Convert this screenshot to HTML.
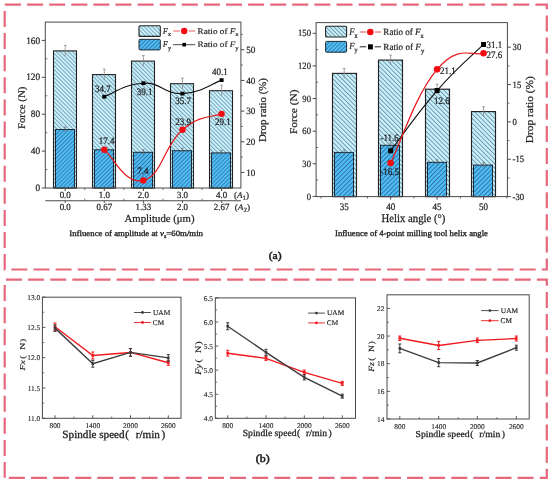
<!DOCTYPE html>
<html><head><meta charset="utf-8"><style>
html,body{margin:0;padding:0;background:#fff;width:550px;height:482px;overflow:hidden;position:relative;}
text{font-family:"Liberation Serif", serif;text-rendering:geometricPrecision;stroke:#1e1e1e;stroke-width:0.22px;}
</style></head><body>
<svg width="550" height="482" viewBox="0 0 550 482" style="position:absolute;left:0;top:0;will-change:transform">
<defs>
<pattern id="hx" patternUnits="userSpaceOnUse" width="2.85" height="2.85" patternTransform="rotate(-45)">
<rect width="2.85" height="2.85" fill="#c9f0fd"/><rect x="0" y="0" width="0.8" height="2.85" fill="#6a93a3"/></pattern>
<pattern id="hy" patternUnits="userSpaceOnUse" width="2.85" height="2.85" patternTransform="rotate(45)">
<rect width="2.85" height="2.85" fill="#4fbdf7"/><rect x="0" y="0" width="0.8" height="2.85" fill="#30709c"/></pattern>
<pattern id="hx2" patternUnits="userSpaceOnUse" width="3.2" height="3.2" patternTransform="rotate(-45)">
<rect width="3.2" height="3.2" fill="#c9f0fd"/><rect x="0" y="0" width="0.9" height="3.2" fill="#6a93a3"/></pattern>
<pattern id="hy2" patternUnits="userSpaceOnUse" width="3.2" height="3.2" patternTransform="rotate(45)">
<rect width="3.2" height="3.2" fill="#4fbdf7"/><rect x="0" y="0" width="0.9" height="3.2" fill="#30709c"/></pattern>
</defs>
<path d="M4.7,4.7 H546.8000000000001 V269.5 H4.7 Z" fill="none" stroke="#e6687c" stroke-width="2.2" stroke-dasharray="16 6.1" stroke-dashoffset="-0.3"/>
<path d="M4.7,279.7 H546.8 V477.8 H4.7" fill="none" stroke="#e6687c" stroke-width="2.2" stroke-dasharray="16 6.12" stroke-dashoffset="-1.3"/>
<path d="M4.7,477.8 V279.7" fill="none" stroke="#e6687c" stroke-width="2.2" stroke-dasharray="16 6.12" stroke-dashoffset="0.2"/>
<rect x="53.5" y="50.90" width="23" height="137.10" fill="url(#hx)" stroke="#222" stroke-width="1.1"/>
<rect x="92.5" y="74.60" width="23" height="113.40" fill="url(#hx)" stroke="#222" stroke-width="1.1"/>
<rect x="131.5" y="61.10" width="23" height="126.90" fill="url(#hx)" stroke="#222" stroke-width="1.1"/>
<rect x="170.5" y="83.70" width="23" height="104.30" fill="url(#hx)" stroke="#222" stroke-width="1.1"/>
<rect x="209.5" y="90.70" width="23" height="97.30" fill="url(#hx)" stroke="#222" stroke-width="1.1"/>
<line x1="65.20" y1="45.40" x2="65.20" y2="56.40" stroke="#8a8a8a" stroke-width="0.8" />
<line x1="63.80" y1="45.40" x2="66.60" y2="45.40" stroke="#8a8a8a" stroke-width="0.8" />
<line x1="104.30" y1="69.10" x2="104.30" y2="80.10" stroke="#8a8a8a" stroke-width="0.8" />
<line x1="102.90" y1="69.10" x2="105.70" y2="69.10" stroke="#8a8a8a" stroke-width="0.8" />
<line x1="143.40" y1="55.60" x2="143.40" y2="66.60" stroke="#8a8a8a" stroke-width="0.8" />
<line x1="142.00" y1="55.60" x2="144.80" y2="55.60" stroke="#8a8a8a" stroke-width="0.8" />
<line x1="182.50" y1="78.20" x2="182.50" y2="89.20" stroke="#8a8a8a" stroke-width="0.8" />
<line x1="181.10" y1="78.20" x2="183.90" y2="78.20" stroke="#8a8a8a" stroke-width="0.8" />
<line x1="221.60" y1="85.20" x2="221.60" y2="96.20" stroke="#8a8a8a" stroke-width="0.8" />
<line x1="220.20" y1="85.20" x2="223.00" y2="85.20" stroke="#8a8a8a" stroke-width="0.8" />
<rect x="55.5" y="129.50" width="19" height="58.50" fill="url(#hy)" stroke="#1e2a33" stroke-width="1"/>
<line x1="65.20" y1="127.00" x2="65.20" y2="132.00" stroke="#666" stroke-width="0.7" />
<line x1="64.00" y1="127.00" x2="66.40" y2="127.00" stroke="#666" stroke-width="0.7" />
<rect x="94.5" y="149.80" width="19" height="38.20" fill="url(#hy)" stroke="#1e2a33" stroke-width="1"/>
<line x1="104.30" y1="147.30" x2="104.30" y2="152.30" stroke="#666" stroke-width="0.7" />
<line x1="103.10" y1="147.30" x2="105.50" y2="147.30" stroke="#666" stroke-width="0.7" />
<rect x="133.5" y="152.30" width="19" height="35.70" fill="url(#hy)" stroke="#1e2a33" stroke-width="1"/>
<line x1="143.40" y1="149.80" x2="143.40" y2="154.80" stroke="#666" stroke-width="0.7" />
<line x1="142.20" y1="149.80" x2="144.60" y2="149.80" stroke="#666" stroke-width="0.7" />
<rect x="172.5" y="150.70" width="19" height="37.30" fill="url(#hy)" stroke="#1e2a33" stroke-width="1"/>
<line x1="182.50" y1="148.20" x2="182.50" y2="153.20" stroke="#666" stroke-width="0.7" />
<line x1="181.30" y1="148.20" x2="183.70" y2="148.20" stroke="#666" stroke-width="0.7" />
<rect x="211.5" y="152.90" width="19" height="35.10" fill="url(#hy)" stroke="#1e2a33" stroke-width="1"/>
<line x1="221.60" y1="150.40" x2="221.60" y2="155.40" stroke="#666" stroke-width="0.7" />
<line x1="220.40" y1="150.40" x2="222.80" y2="150.40" stroke="#666" stroke-width="0.7" />
<rect x="45.3" y="22.1" width="195.60" height="165.90" fill="none" stroke="#4a4a4a" stroke-width="1"/>
<line x1="41.80" y1="188.00" x2="45.30" y2="188.00" stroke="#4a4a4a" stroke-width="1.0" />
<text transform="translate(40.10,191.10) scale(0.95,1.0)" font-size="9.8" text-anchor="end" fill="#1e1e1e" >0</text>
<line x1="41.80" y1="151.10" x2="45.30" y2="151.10" stroke="#4a4a4a" stroke-width="1.0" />
<text transform="translate(40.10,154.20) scale(0.95,1.0)" font-size="9.8" text-anchor="end" fill="#1e1e1e" >40</text>
<line x1="41.80" y1="114.20" x2="45.30" y2="114.20" stroke="#4a4a4a" stroke-width="1.0" />
<text transform="translate(40.10,117.30) scale(0.95,1.0)" font-size="9.8" text-anchor="end" fill="#1e1e1e" >80</text>
<line x1="41.80" y1="77.30" x2="45.30" y2="77.30" stroke="#4a4a4a" stroke-width="1.0" />
<text transform="translate(40.10,80.40) scale(0.95,1.0)" font-size="9.8" text-anchor="end" fill="#1e1e1e" >120</text>
<line x1="41.80" y1="40.40" x2="45.30" y2="40.40" stroke="#4a4a4a" stroke-width="1.0" />
<text transform="translate(40.10,43.50) scale(0.95,1.0)" font-size="9.8" text-anchor="end" fill="#1e1e1e" >160</text>
<line x1="45.30" y1="169.55" x2="47.30" y2="169.55" stroke="#4a4a4a" stroke-width="0.8" />
<line x1="45.30" y1="132.65" x2="47.30" y2="132.65" stroke="#4a4a4a" stroke-width="0.8" />
<line x1="45.30" y1="95.75" x2="47.30" y2="95.75" stroke="#4a4a4a" stroke-width="0.8" />
<line x1="45.30" y1="58.85" x2="47.30" y2="58.85" stroke="#4a4a4a" stroke-width="0.8" />
<line x1="240.90" y1="172.44" x2="244.40" y2="172.44" stroke="#4a4a4a" stroke-width="1.0" />
<text transform="translate(246.30,175.54) scale(0.95,1.0)" font-size="9.6" text-anchor="start" fill="#1e1e1e" >10</text>
<line x1="240.90" y1="141.77" x2="244.40" y2="141.77" stroke="#4a4a4a" stroke-width="1.0" />
<text transform="translate(246.30,144.87) scale(0.95,1.0)" font-size="9.6" text-anchor="start" fill="#1e1e1e" >20</text>
<line x1="240.90" y1="111.10" x2="244.40" y2="111.10" stroke="#4a4a4a" stroke-width="1.0" />
<text transform="translate(246.30,114.20) scale(0.95,1.0)" font-size="9.6" text-anchor="start" fill="#1e1e1e" >30</text>
<line x1="240.90" y1="80.43" x2="244.40" y2="80.43" stroke="#4a4a4a" stroke-width="1.0" />
<text transform="translate(246.30,83.53) scale(0.95,1.0)" font-size="9.6" text-anchor="start" fill="#1e1e1e" >40</text>
<line x1="240.90" y1="49.76" x2="244.40" y2="49.76" stroke="#4a4a4a" stroke-width="1.0" />
<text transform="translate(246.30,52.86) scale(0.95,1.0)" font-size="9.6" text-anchor="start" fill="#1e1e1e" >50</text>
<line x1="240.90" y1="157.10" x2="242.90" y2="157.10" stroke="#4a4a4a" stroke-width="0.8" />
<line x1="240.90" y1="126.44" x2="242.90" y2="126.44" stroke="#4a4a4a" stroke-width="0.8" />
<line x1="240.90" y1="95.76" x2="242.90" y2="95.76" stroke="#4a4a4a" stroke-width="0.8" />
<line x1="240.90" y1="65.09" x2="242.90" y2="65.09" stroke="#4a4a4a" stroke-width="0.8" />
<line x1="240.90" y1="34.42" x2="242.90" y2="34.42" stroke="#4a4a4a" stroke-width="0.8" />
<line x1="65.20" y1="188.00" x2="65.20" y2="191.00" stroke="#4a4a4a" stroke-width="1.0" />
<line x1="104.30" y1="188.00" x2="104.30" y2="191.00" stroke="#4a4a4a" stroke-width="1.0" />
<line x1="143.40" y1="188.00" x2="143.40" y2="191.00" stroke="#4a4a4a" stroke-width="1.0" />
<line x1="182.50" y1="188.00" x2="182.50" y2="191.00" stroke="#4a4a4a" stroke-width="1.0" />
<line x1="221.60" y1="188.00" x2="221.60" y2="191.00" stroke="#4a4a4a" stroke-width="1.0" />
<line x1="84.75" y1="188.00" x2="84.75" y2="190.00" stroke="#4a4a4a" stroke-width="0.8" />
<line x1="123.85" y1="188.00" x2="123.85" y2="190.00" stroke="#4a4a4a" stroke-width="0.8" />
<line x1="162.95" y1="188.00" x2="162.95" y2="190.00" stroke="#4a4a4a" stroke-width="0.8" />
<line x1="202.05" y1="188.00" x2="202.05" y2="190.00" stroke="#4a4a4a" stroke-width="0.8" />
<line x1="45.30" y1="200.70" x2="240.90" y2="200.70" stroke="#4a4a4a" stroke-width="1.1" />
<line x1="65.20" y1="200.70" x2="65.20" y2="203.00" stroke="#4a4a4a" stroke-width="0.9" />
<line x1="104.30" y1="200.70" x2="104.30" y2="203.00" stroke="#4a4a4a" stroke-width="0.9" />
<line x1="143.40" y1="200.70" x2="143.40" y2="203.00" stroke="#4a4a4a" stroke-width="0.9" />
<line x1="182.50" y1="200.70" x2="182.50" y2="203.00" stroke="#4a4a4a" stroke-width="0.9" />
<line x1="221.60" y1="200.70" x2="221.60" y2="203.00" stroke="#4a4a4a" stroke-width="0.9" />
<line x1="84.75" y1="200.70" x2="84.75" y2="198.70" stroke="#4a4a4a" stroke-width="0.8" />
<line x1="123.85" y1="200.70" x2="123.85" y2="198.70" stroke="#4a4a4a" stroke-width="0.8" />
<line x1="162.95" y1="200.70" x2="162.95" y2="198.70" stroke="#4a4a4a" stroke-width="0.8" />
<line x1="202.05" y1="200.70" x2="202.05" y2="198.70" stroke="#4a4a4a" stroke-width="0.8" />
<text transform="translate(65.20,197.50) scale(0.95,1.0)" font-size="9.4" text-anchor="middle" fill="#1e1e1e" >0.0</text>
<text transform="translate(104.30,197.50) scale(0.95,1.0)" font-size="9.4" text-anchor="middle" fill="#1e1e1e" >1.0</text>
<text transform="translate(143.40,197.50) scale(0.95,1.0)" font-size="9.4" text-anchor="middle" fill="#1e1e1e" >2.0</text>
<text transform="translate(182.50,197.50) scale(0.95,1.0)" font-size="9.4" text-anchor="middle" fill="#1e1e1e" >3.0</text>
<text transform="translate(221.60,197.50) scale(0.95,1.0)" font-size="9.4" text-anchor="middle" fill="#1e1e1e" >4.0</text>
<text transform="translate(65.20,210.20) scale(0.95,1.0)" font-size="9.4" text-anchor="middle" fill="#1e1e1e" >0.0</text>
<text transform="translate(104.30,210.20) scale(0.95,1.0)" font-size="9.4" text-anchor="middle" fill="#1e1e1e" >0.67</text>
<text transform="translate(143.40,210.20) scale(0.95,1.0)" font-size="9.4" text-anchor="middle" fill="#1e1e1e" >1.33</text>
<text transform="translate(182.50,210.20) scale(0.95,1.0)" font-size="9.4" text-anchor="middle" fill="#1e1e1e" >2.0</text>
<text transform="translate(221.60,210.20) scale(0.95,1.0)" font-size="9.4" text-anchor="middle" fill="#1e1e1e" >2.67</text>
<g transform="translate(233.972,197.916) scale(0.9125,0.8737)"><text font-size="10" fill="#1e1e1e">(<tspan font-style="italic">A</tspan><tspan font-size="7.5" dy="2.6">1</tspan><tspan dy="-2.6">)</tspan></text></g>
<g transform="translate(234.769,209.568) scale(0.9250,0.8526)"><text font-size="10" fill="#1e1e1e">(<tspan font-style="italic">A</tspan><tspan font-size="7.5" dy="2.6">2</tspan><tspan dy="-2.6">)</tspan></text></g>
<g transform="translate(124.500,222.068) scale(1.0764,1.0811)"><text font-size="10" fill="#1e1e1e">Amplitude (μm)</text></g>
<g transform="translate(69.280,235.972) scale(0.8783,0.8100)"><text font-size="10" fill="#1e1e1e" style="stroke-width:0.4px">Influence of amplitude at <tspan font-style="italic">v</tspan><tspan font-size="7" dy="2.4">s</tspan><tspan dy="-2.4">=60m/min</tspan></text></g>
<g transform="translate(25.338,129.071) rotate(-90) scale(1.0831,1.0054)"><text font-size="10" fill="#1e1e1e">Force (N)</text></g>
<g transform="translate(266.416,141.971) rotate(-90) scale(1.0850,1.0595)"><text font-size="10" fill="#1e1e1e">Drop ratio (%)</text></g>
<path d="M104.30,96.69 C113.61,93.47 124.78,83.92 143.40,83.19 C162.02,82.46 163.88,94.35 182.50,93.62 C201.12,92.89 212.29,83.34 221.60,80.12" fill="none" stroke="#111" stroke-width="1.1"/>
<path d="M104.30,149.74 C113.61,157.05 124.78,185.16 143.40,180.41 C162.02,175.67 163.88,145.65 182.50,129.81 C201.12,113.96 212.29,117.66 221.60,113.86" fill="none" stroke="#e8161b" stroke-width="1.2"/>
<rect x="102.30" y="94.79" width="4.0" height="3.8" fill="#000"/>
<rect x="141.40" y="81.29" width="4.0" height="3.8" fill="#000"/>
<rect x="180.50" y="91.72" width="4.0" height="3.8" fill="#000"/>
<rect x="219.60" y="78.22" width="4.0" height="3.8" fill="#000"/>
<circle cx="104.30" cy="149.74" r="3.2" fill="#f20c10"/>
<circle cx="143.40" cy="180.41" r="3.2" fill="#f20c10"/>
<circle cx="182.50" cy="129.81" r="3.2" fill="#f20c10"/>
<circle cx="221.60" cy="113.86" r="3.2" fill="#f20c10"/>
<text transform="translate(102.85,91.50) scale(0.92,1.0)" font-size="9.8" text-anchor="middle" fill="#1e1e1e" >34.7</text>
<text transform="translate(144.70,94.80) scale(0.92,1.0)" font-size="9.8" text-anchor="middle" fill="#1e1e1e" >39.1</text>
<text transform="translate(183.20,103.70) scale(0.92,1.0)" font-size="9.8" text-anchor="middle" fill="#1e1e1e" >35.7</text>
<text transform="translate(219.80,75.40) scale(0.92,1.0)" font-size="9.8" text-anchor="middle" fill="#1e1e1e" >40.1</text>
<text transform="translate(106.60,143.70) scale(0.92,1.0)" font-size="9.8" text-anchor="middle" fill="#1e1e1e" >17.4</text>
<text transform="translate(143.00,173.50) scale(0.92,1.0)" font-size="9.8" text-anchor="middle" fill="#1e1e1e" >7.4</text>
<text transform="translate(183.20,124.70) scale(0.92,1.0)" font-size="9.8" text-anchor="middle" fill="#1e1e1e" >23.9</text>
<text transform="translate(223.00,125.20) scale(0.92,1.0)" font-size="9.8" text-anchor="middle" fill="#1e1e1e" >29.1</text>
<rect x="139" y="25.8" width="21.3" height="10.6" rx="1" fill="url(#hx)" stroke="#222" stroke-width="1.1"/>
<rect x="139" y="39.3" width="21.3" height="10.6" rx="1" fill="url(#hy)" stroke="#1e2a33" stroke-width="1"/>
<g transform="translate(162.810,33.915) scale(0.8400,0.8615)"><text font-size="10" fill="#1e1e1e"><tspan font-style="italic">F</tspan><tspan font-size="7.2" dy="3.0">x</tspan></text></g>
<g transform="translate(162.810,47.211) scale(0.8400,0.8609)"><text font-size="10" fill="#1e1e1e"><tspan font-style="italic">F</tspan><tspan font-size="7.2" dy="3.0">y</tspan></text></g>
<line x1="173.20" y1="31.00" x2="180.00" y2="31.00" stroke="#f05a5e" stroke-width="1.0" />
<line x1="188.60" y1="31.00" x2="195.20" y2="31.00" stroke="#f05a5e" stroke-width="1.0" />
<circle cx="184.2" cy="31.0" r="3.2" fill="#f20c10"/>
<line x1="173.20" y1="44.70" x2="195.20" y2="44.70" stroke="#333" stroke-width="0.9" />
<rect x="182.4" y="42.9" width="3.6" height="3.6" fill="#000"/>
<g transform="translate(197.570,34.012) scale(0.9191,0.8293)"><text font-size="10" fill="#1e1e1e">Ratio of <tspan font-style="italic">F</tspan><tspan font-size="7.2" dy="3.0">x</tspan></text></g>
<g transform="translate(197.570,47.202) scale(0.9191,0.8417)"><text font-size="10" fill="#1e1e1e">Ratio of <tspan font-style="italic">F</tspan><tspan font-size="7.2" dy="3.0">y</tspan></text></g>
<rect x="332.5" y="73.40" width="24" height="123.20" fill="url(#hx2)" stroke="#222" stroke-width="1.15"/>
<line x1="344.20" y1="68.40" x2="344.20" y2="78.40" stroke="#8a8a8a" stroke-width="0.8" />
<line x1="342.80" y1="68.40" x2="345.60" y2="68.40" stroke="#8a8a8a" stroke-width="0.8" />
<rect x="378.5" y="60.10" width="24" height="136.50" fill="url(#hx2)" stroke="#222" stroke-width="1.15"/>
<line x1="390.65" y1="55.10" x2="390.65" y2="65.10" stroke="#8a8a8a" stroke-width="0.8" />
<line x1="389.25" y1="55.10" x2="392.05" y2="55.10" stroke="#8a8a8a" stroke-width="0.8" />
<rect x="425.5" y="89.20" width="24" height="107.40" fill="url(#hx2)" stroke="#222" stroke-width="1.15"/>
<line x1="437.10" y1="84.20" x2="437.10" y2="94.20" stroke="#8a8a8a" stroke-width="0.8" />
<line x1="435.70" y1="84.20" x2="438.50" y2="84.20" stroke="#8a8a8a" stroke-width="0.8" />
<rect x="471.5" y="111.60" width="24" height="85.00" fill="url(#hx2)" stroke="#222" stroke-width="1.15"/>
<line x1="483.55" y1="106.60" x2="483.55" y2="116.60" stroke="#8a8a8a" stroke-width="0.8" />
<line x1="482.15" y1="106.60" x2="484.95" y2="106.60" stroke="#8a8a8a" stroke-width="0.8" />
<rect x="334.5" y="152.40" width="19" height="44.20" fill="url(#hy2)" stroke="#1e2a33" stroke-width="1"/>
<line x1="344.20" y1="149.90" x2="344.20" y2="154.90" stroke="#666" stroke-width="0.7" />
<line x1="343.00" y1="149.90" x2="345.40" y2="149.90" stroke="#666" stroke-width="0.7" />
<rect x="380.5" y="145.30" width="19" height="51.30" fill="url(#hy2)" stroke="#1e2a33" stroke-width="1"/>
<line x1="390.65" y1="142.80" x2="390.65" y2="147.80" stroke="#666" stroke-width="0.7" />
<line x1="389.45" y1="142.80" x2="391.85" y2="142.80" stroke="#666" stroke-width="0.7" />
<rect x="427.5" y="162.30" width="19" height="34.30" fill="url(#hy2)" stroke="#1e2a33" stroke-width="1"/>
<line x1="437.10" y1="159.80" x2="437.10" y2="164.80" stroke="#666" stroke-width="0.7" />
<line x1="435.90" y1="159.80" x2="438.30" y2="159.80" stroke="#666" stroke-width="0.7" />
<rect x="473.5" y="165.10" width="19" height="31.50" fill="url(#hy2)" stroke="#1e2a33" stroke-width="1"/>
<line x1="483.55" y1="162.60" x2="483.55" y2="167.60" stroke="#666" stroke-width="0.7" />
<line x1="482.35" y1="162.60" x2="484.75" y2="162.60" stroke="#666" stroke-width="0.7" />
<rect x="316.1" y="22.6" width="191.30" height="174.00" fill="none" stroke="#4a4a4a" stroke-width="1"/>
<line x1="312.60" y1="196.40" x2="316.10" y2="196.40" stroke="#4a4a4a" stroke-width="1.0" />
<text transform="translate(311.00,199.50) scale(0.9,1.0)" font-size="9.6" text-anchor="end" fill="#1e1e1e" >0</text>
<line x1="312.60" y1="163.78" x2="316.10" y2="163.78" stroke="#4a4a4a" stroke-width="1.0" />
<text transform="translate(311.00,166.88) scale(0.9,1.0)" font-size="9.6" text-anchor="end" fill="#1e1e1e" >30</text>
<line x1="312.60" y1="131.16" x2="316.10" y2="131.16" stroke="#4a4a4a" stroke-width="1.0" />
<text transform="translate(311.00,134.26) scale(0.9,1.0)" font-size="9.6" text-anchor="end" fill="#1e1e1e" >60</text>
<line x1="312.60" y1="98.54" x2="316.10" y2="98.54" stroke="#4a4a4a" stroke-width="1.0" />
<text transform="translate(311.00,101.64) scale(0.9,1.0)" font-size="9.6" text-anchor="end" fill="#1e1e1e" >90</text>
<line x1="312.60" y1="65.92" x2="316.10" y2="65.92" stroke="#4a4a4a" stroke-width="1.0" />
<text transform="translate(311.00,69.02) scale(0.9,1.0)" font-size="9.6" text-anchor="end" fill="#1e1e1e" >120</text>
<line x1="312.60" y1="33.31" x2="316.10" y2="33.31" stroke="#4a4a4a" stroke-width="1.0" />
<text transform="translate(311.00,36.41) scale(0.9,1.0)" font-size="9.6" text-anchor="end" fill="#1e1e1e" >150</text>
<line x1="316.10" y1="180.09" x2="318.10" y2="180.09" stroke="#4a4a4a" stroke-width="0.8" />
<line x1="316.10" y1="147.47" x2="318.10" y2="147.47" stroke="#4a4a4a" stroke-width="0.8" />
<line x1="316.10" y1="114.85" x2="318.10" y2="114.85" stroke="#4a4a4a" stroke-width="0.8" />
<line x1="316.10" y1="82.23" x2="318.10" y2="82.23" stroke="#4a4a4a" stroke-width="0.8" />
<line x1="316.10" y1="49.61" x2="318.10" y2="49.61" stroke="#4a4a4a" stroke-width="0.8" />
<line x1="507.40" y1="196.60" x2="510.90" y2="196.60" stroke="#4a4a4a" stroke-width="1.0" />
<text transform="translate(512.60,199.70) scale(0.92,1.0)" font-size="9.4" text-anchor="start" fill="#1e1e1e" >-30</text>
<line x1="507.40" y1="159.25" x2="510.90" y2="159.25" stroke="#4a4a4a" stroke-width="1.0" />
<text transform="translate(512.60,162.35) scale(0.92,1.0)" font-size="9.4" text-anchor="start" fill="#1e1e1e" >-15</text>
<line x1="507.40" y1="121.90" x2="510.90" y2="121.90" stroke="#4a4a4a" stroke-width="1.0" />
<text transform="translate(512.60,125.00) scale(0.92,1.0)" font-size="9.4" text-anchor="start" fill="#1e1e1e" >0</text>
<line x1="507.40" y1="84.55" x2="510.90" y2="84.55" stroke="#4a4a4a" stroke-width="1.0" />
<text transform="translate(512.60,87.65) scale(0.92,1.0)" font-size="9.4" text-anchor="start" fill="#1e1e1e" >15</text>
<line x1="507.40" y1="47.20" x2="510.90" y2="47.20" stroke="#4a4a4a" stroke-width="1.0" />
<text transform="translate(512.60,50.30) scale(0.92,1.0)" font-size="9.4" text-anchor="start" fill="#1e1e1e" >30</text>
<line x1="507.40" y1="177.93" x2="509.40" y2="177.93" stroke="#4a4a4a" stroke-width="0.8" />
<line x1="507.40" y1="140.58" x2="509.40" y2="140.58" stroke="#4a4a4a" stroke-width="0.8" />
<line x1="507.40" y1="103.23" x2="509.40" y2="103.23" stroke="#4a4a4a" stroke-width="0.8" />
<line x1="507.40" y1="65.88" x2="509.40" y2="65.88" stroke="#4a4a4a" stroke-width="0.8" />
<line x1="344.20" y1="196.60" x2="344.20" y2="199.60" stroke="#4a4a4a" stroke-width="1.0" />
<line x1="390.65" y1="196.60" x2="390.65" y2="199.60" stroke="#4a4a4a" stroke-width="1.0" />
<line x1="437.10" y1="196.60" x2="437.10" y2="199.60" stroke="#4a4a4a" stroke-width="1.0" />
<line x1="483.55" y1="196.60" x2="483.55" y2="199.60" stroke="#4a4a4a" stroke-width="1.0" />
<line x1="321.00" y1="196.60" x2="321.00" y2="198.60" stroke="#4a4a4a" stroke-width="0.8" />
<line x1="367.45" y1="196.60" x2="367.45" y2="198.60" stroke="#4a4a4a" stroke-width="0.8" />
<line x1="413.90" y1="196.60" x2="413.90" y2="198.60" stroke="#4a4a4a" stroke-width="0.8" />
<line x1="460.35" y1="196.60" x2="460.35" y2="198.60" stroke="#4a4a4a" stroke-width="0.8" />
<line x1="506.80" y1="196.60" x2="506.80" y2="198.60" stroke="#4a4a4a" stroke-width="0.8" />
<text transform="translate(344.20,210.10) scale(0.9,1.0)" font-size="10" text-anchor="middle" fill="#1e1e1e" >35</text>
<text transform="translate(390.65,210.10) scale(0.9,1.0)" font-size="10" text-anchor="middle" fill="#1e1e1e" >40</text>
<text transform="translate(437.10,210.10) scale(0.9,1.0)" font-size="10" text-anchor="middle" fill="#1e1e1e" >45</text>
<text transform="translate(483.55,210.10) scale(0.9,1.0)" font-size="10" text-anchor="middle" fill="#1e1e1e" >50</text>
<g transform="translate(381.431,222.122) scale(1.0746,1.1459)"><text font-size="10" fill="#1e1e1e">Helix angle (°)</text></g>
<g transform="translate(334.983,236.429) scale(0.8688,0.8316)"><text font-size="10" fill="#1e1e1e" style="stroke-width:0.4px">Influence of 4-point milling tool helix angle</text></g>
<g transform="translate(296.589,134.085) rotate(-90) scale(1.1403,1.0270)"><text font-size="10" fill="#1e1e1e">Force (N)</text></g>
<g transform="translate(532.616,143.285) rotate(-90) scale(1.1416,1.0595)"><text font-size="10" fill="#1e1e1e">Drop ratio (%)</text></g>
<path d="M390.65,150.78 C401.71,136.44 414.98,115.84 437.10,90.53 C459.22,65.21 472.49,55.43 483.55,44.46" fill="none" stroke="#111" stroke-width="1.1"/>
<path d="M390.65,162.99 C401.71,140.69 414.98,95.51 437.10,69.36 C459.22,43.22 472.49,57.03 483.55,53.18" fill="none" stroke="#e8161b" stroke-width="1.2"/>
<rect x="388.15" y="148.28" width="5.0" height="5.0" fill="#000"/>
<rect x="434.60" y="88.03" width="5.0" height="5.0" fill="#000"/>
<rect x="481.05" y="41.96" width="5.0" height="5.0" fill="#000"/>
<circle cx="390.65" cy="162.99" r="3.3" fill="#f20c10"/>
<circle cx="437.10" cy="69.36" r="3.3" fill="#f20c10"/>
<circle cx="483.55" cy="53.18" r="3.3" fill="#f20c10"/>
<text transform="translate(389.60,140.50) scale(0.92,1.0)" font-size="9.8" text-anchor="middle" fill="#1e1e1e" >-11.6</text>
<text transform="translate(389.60,175.30) scale(0.92,1.0)" font-size="9.8" text-anchor="middle" fill="#1e1e1e" >-16.5</text>
<text transform="translate(439.90,74.30) scale(0.92,1.0)" font-size="9.8" text-anchor="start" fill="#1e1e1e" >21.1</text>
<text transform="translate(442.00,103.80) scale(0.92,1.0)" font-size="9.8" text-anchor="middle" fill="#1e1e1e" >12.6</text>
<text transform="translate(486.50,48.20) scale(0.92,1.0)" font-size="9.8" text-anchor="start" fill="#1e1e1e" >31.1</text>
<text transform="translate(486.50,57.60) scale(0.92,1.0)" font-size="9.8" text-anchor="start" fill="#1e1e1e" >27.6</text>
<rect x="325.6" y="26.2" width="21" height="10.8" rx="1" fill="url(#hx)" stroke="#222" stroke-width="1.1"/>
<rect x="325.6" y="41.4" width="21" height="10.8" rx="1" fill="url(#hy)" stroke="#1e2a33" stroke-width="1"/>
<g transform="translate(349.215,35.315) scale(0.8600,0.9949)"><text font-size="10" fill="#1e1e1e"><tspan font-style="italic">F</tspan><tspan font-size="7.2" dy="3.0">x</tspan></text></g>
<g transform="translate(349.215,49.480) scale(0.8600,0.9304)"><text font-size="10" fill="#1e1e1e"><tspan font-style="italic">F</tspan><tspan font-size="7.2" dy="3.0">y</tspan></text></g>
<line x1="359.80" y1="32.00" x2="366.00" y2="32.00" stroke="#f05a5e" stroke-width="1.1" />
<line x1="374.80" y1="32.00" x2="381.00" y2="32.00" stroke="#f05a5e" stroke-width="1.1" />
<circle cx="370.3" cy="32.0" r="3.3" fill="#f20c10"/>
<line x1="359.80" y1="46.80" x2="366.30" y2="46.80" stroke="#222" stroke-width="1.0" />
<line x1="374.60" y1="46.80" x2="381.00" y2="46.80" stroke="#222" stroke-width="1.0" />
<rect x="368.0" y="44.3" width="4.9" height="5.1" fill="#000"/>
<g transform="translate(383.374,35.461) scale(0.9056,0.9463)"><text font-size="10" fill="#1e1e1e">Ratio of <tspan font-style="italic">F</tspan><tspan font-size="7.2" dy="3.0">x</tspan></text></g>
<g transform="translate(383.372,49.767) scale(0.9124,0.9333)"><text font-size="10" fill="#1e1e1e">Ratio of <tspan font-style="italic">F</tspan><tspan font-size="7.2" dy="3.0">y</tspan></text></g>
<g transform="translate(268.709,258.510) scale(1.1628,1.0359)"><text font-size="10" fill="#1e1e1e" style="stroke-width:0.5px">(a)</text></g>
<g transform="translate(255.804,461.908) scale(1.1822,1.0769)"><text font-size="10" fill="#1e1e1e" style="stroke-width:0.5px">(b)</text></g>
<rect x="42.4" y="297.2" width="138.60" height="121.10" fill="none" stroke="#4a4a4a" stroke-width="1.0"/>
<line x1="42.40" y1="418.30" x2="45.40" y2="418.30" stroke="#4a4a4a" stroke-width="0.9" />
<text transform="translate(40.30,420.90) scale(1.0,1.0)" font-size="7.4" text-anchor="end" fill="#1e1e1e" style="stroke-width:0.12px">11.0</text>
<line x1="42.40" y1="388.00" x2="45.40" y2="388.00" stroke="#4a4a4a" stroke-width="0.9" />
<text transform="translate(40.30,390.60) scale(1.0,1.0)" font-size="7.4" text-anchor="end" fill="#1e1e1e" style="stroke-width:0.12px">11.5</text>
<line x1="42.40" y1="357.70" x2="45.40" y2="357.70" stroke="#4a4a4a" stroke-width="0.9" />
<text transform="translate(40.30,360.30) scale(1.0,1.0)" font-size="7.4" text-anchor="end" fill="#1e1e1e" style="stroke-width:0.12px">12.0</text>
<line x1="42.40" y1="327.40" x2="45.40" y2="327.40" stroke="#4a4a4a" stroke-width="0.9" />
<text transform="translate(40.30,330.00) scale(1.0,1.0)" font-size="7.4" text-anchor="end" fill="#1e1e1e" style="stroke-width:0.12px">12.5</text>
<line x1="42.40" y1="297.10" x2="45.40" y2="297.10" stroke="#4a4a4a" stroke-width="0.9" />
<text transform="translate(40.30,299.70) scale(1.0,1.0)" font-size="7.4" text-anchor="end" fill="#1e1e1e" style="stroke-width:0.12px">13.0</text>
<line x1="42.40" y1="403.15" x2="44.20" y2="403.15" stroke="#4a4a4a" stroke-width="0.8" />
<line x1="42.40" y1="372.85" x2="44.20" y2="372.85" stroke="#4a4a4a" stroke-width="0.8" />
<line x1="42.40" y1="342.55" x2="44.20" y2="342.55" stroke="#4a4a4a" stroke-width="0.8" />
<line x1="42.40" y1="312.25" x2="44.20" y2="312.25" stroke="#4a4a4a" stroke-width="0.8" />
<line x1="55.00" y1="418.30" x2="55.00" y2="415.30" stroke="#4a4a4a" stroke-width="0.9" />
<text transform="translate(55.00,427.90) scale(1.0,1.0)" font-size="7.4" text-anchor="middle" fill="#1e1e1e" style="stroke-width:0.12px">800</text>
<line x1="92.80" y1="418.30" x2="92.80" y2="415.30" stroke="#4a4a4a" stroke-width="0.9" />
<text transform="translate(92.80,427.90) scale(1.0,1.0)" font-size="7.4" text-anchor="middle" fill="#1e1e1e" style="stroke-width:0.12px">1400</text>
<line x1="130.50" y1="418.30" x2="130.50" y2="415.30" stroke="#4a4a4a" stroke-width="0.9" />
<text transform="translate(130.50,427.90) scale(1.0,1.0)" font-size="7.4" text-anchor="middle" fill="#1e1e1e" style="stroke-width:0.12px">2000</text>
<line x1="168.30" y1="418.30" x2="168.30" y2="415.30" stroke="#4a4a4a" stroke-width="0.9" />
<text transform="translate(168.30,427.90) scale(1.0,1.0)" font-size="7.4" text-anchor="middle" fill="#1e1e1e" style="stroke-width:0.12px">2600</text>
<line x1="73.90" y1="418.30" x2="73.90" y2="416.50" stroke="#4a4a4a" stroke-width="0.8" />
<line x1="111.70" y1="418.30" x2="111.70" y2="416.50" stroke="#4a4a4a" stroke-width="0.8" />
<line x1="149.50" y1="418.30" x2="149.50" y2="416.50" stroke="#4a4a4a" stroke-width="0.8" />
<path d="M55.00,326.79 L92.80,355.52 L130.50,352.43 L168.30,362.79" fill="none" stroke="#f0191e" stroke-width="1.4"/>
<line x1="55.00" y1="322.99" x2="55.00" y2="330.59" stroke="#f0191e" stroke-width="1.0" />
<line x1="53.40" y1="322.99" x2="56.60" y2="322.99" stroke="#f0191e" stroke-width="1.0" />
<line x1="53.40" y1="330.59" x2="56.60" y2="330.59" stroke="#f0191e" stroke-width="1.0" />
<rect x="53.70" y="325.49" width="2.6" height="2.6" fill="#f0191e"/>
<line x1="92.80" y1="352.02" x2="92.80" y2="359.02" stroke="#f0191e" stroke-width="1.0" />
<line x1="91.20" y1="352.02" x2="94.40" y2="352.02" stroke="#f0191e" stroke-width="1.0" />
<line x1="91.20" y1="359.02" x2="94.40" y2="359.02" stroke="#f0191e" stroke-width="1.0" />
<rect x="91.50" y="354.22" width="2.6" height="2.6" fill="#f0191e"/>
<line x1="130.50" y1="348.63" x2="130.50" y2="356.23" stroke="#f0191e" stroke-width="1.0" />
<line x1="128.90" y1="348.63" x2="132.10" y2="348.63" stroke="#f0191e" stroke-width="1.0" />
<line x1="128.90" y1="356.23" x2="132.10" y2="356.23" stroke="#f0191e" stroke-width="1.0" />
<rect x="129.20" y="351.13" width="2.6" height="2.6" fill="#f0191e"/>
<line x1="168.30" y1="360.29" x2="168.30" y2="365.29" stroke="#f0191e" stroke-width="1.0" />
<line x1="166.70" y1="360.29" x2="169.90" y2="360.29" stroke="#f0191e" stroke-width="1.0" />
<line x1="166.70" y1="365.29" x2="169.90" y2="365.29" stroke="#f0191e" stroke-width="1.0" />
<rect x="167.00" y="361.49" width="2.6" height="2.6" fill="#f0191e"/>
<path d="M55.00,328.13 L92.80,363.76 L130.50,352.43 L168.30,357.88" fill="none" stroke="#3c3c3c" stroke-width="1.4"/>
<line x1="55.00" y1="324.93" x2="55.00" y2="331.33" stroke="#3c3c3c" stroke-width="1.0" />
<line x1="53.40" y1="324.93" x2="56.60" y2="324.93" stroke="#3c3c3c" stroke-width="1.0" />
<line x1="53.40" y1="331.33" x2="56.60" y2="331.33" stroke="#3c3c3c" stroke-width="1.0" />
<rect x="53.70" y="326.83" width="2.6" height="2.6" fill="#3c3c3c"/>
<line x1="92.80" y1="360.36" x2="92.80" y2="367.16" stroke="#3c3c3c" stroke-width="1.0" />
<line x1="91.20" y1="360.36" x2="94.40" y2="360.36" stroke="#3c3c3c" stroke-width="1.0" />
<line x1="91.20" y1="367.16" x2="94.40" y2="367.16" stroke="#3c3c3c" stroke-width="1.0" />
<rect x="91.50" y="362.46" width="2.6" height="2.6" fill="#3c3c3c"/>
<line x1="130.50" y1="348.63" x2="130.50" y2="356.23" stroke="#3c3c3c" stroke-width="1.0" />
<line x1="128.90" y1="348.63" x2="132.10" y2="348.63" stroke="#3c3c3c" stroke-width="1.0" />
<line x1="128.90" y1="356.23" x2="132.10" y2="356.23" stroke="#3c3c3c" stroke-width="1.0" />
<rect x="129.20" y="351.13" width="2.6" height="2.6" fill="#3c3c3c"/>
<line x1="168.30" y1="354.58" x2="168.30" y2="361.18" stroke="#3c3c3c" stroke-width="1.0" />
<line x1="166.70" y1="354.58" x2="169.90" y2="354.58" stroke="#3c3c3c" stroke-width="1.0" />
<line x1="166.70" y1="361.18" x2="169.90" y2="361.18" stroke="#3c3c3c" stroke-width="1.0" />
<rect x="167.00" y="356.58" width="2.6" height="2.6" fill="#3c3c3c"/>
<line x1="134.10" y1="312.50" x2="150.90" y2="312.50" stroke="#3c3c3c" stroke-width="0.9" />
<circle cx="142.50" cy="312.5" r="1.4" fill="#3c3c3c"/>
<line x1="134.10" y1="322.50" x2="150.90" y2="322.50" stroke="#f0191e" stroke-width="0.9" />
<circle cx="142.50" cy="322.50" r="1.4" fill="#f0191e"/>
<g transform="translate(153.000,315.021) scale(0.7398,0.7143)"><text font-size="10" fill="#1e1e1e">UAM</text></g>
<g transform="translate(152.820,324.918) scale(0.7213,0.7286)"><text font-size="10" fill="#1e1e1e">CM</text></g>
<g transform="translate(25.222,370.458) rotate(-90) scale(0.9679,0.7459)"><text font-size="10" fill="#1e1e1e"><tspan font-style="italic">Fx</tspan><tspan dx="1.5">(</tspan><tspan dx="6">N</tspan><tspan dx="0.8">)</tspan></text></g>
<g transform="translate(62.342,437.819) scale(1.1158,1.1027)"><text font-size="10" fill="#1e1e1e" style="stroke-width:0.28px">Spindle speed<tspan dx="0.6">(</tspan><tspan dx="6">r/min</tspan><tspan dx="1.5">)</tspan></text></g>
<rect x="215.3" y="297.9" width="140.20" height="120.40" fill="none" stroke="#4a4a4a" stroke-width="1.0"/>
<line x1="215.30" y1="418.30" x2="218.30" y2="418.30" stroke="#4a4a4a" stroke-width="0.9" />
<text transform="translate(213.00,420.90) scale(1.0,1.0)" font-size="7.4" text-anchor="end" fill="#1e1e1e" style="stroke-width:0.12px">4.0</text>
<line x1="215.30" y1="394.22" x2="218.30" y2="394.22" stroke="#4a4a4a" stroke-width="0.9" />
<text transform="translate(213.00,396.82) scale(1.0,1.0)" font-size="7.4" text-anchor="end" fill="#1e1e1e" style="stroke-width:0.12px">4.5</text>
<line x1="215.30" y1="370.14" x2="218.30" y2="370.14" stroke="#4a4a4a" stroke-width="0.9" />
<text transform="translate(213.00,372.74) scale(1.0,1.0)" font-size="7.4" text-anchor="end" fill="#1e1e1e" style="stroke-width:0.12px">5.0</text>
<line x1="215.30" y1="346.06" x2="218.30" y2="346.06" stroke="#4a4a4a" stroke-width="0.9" />
<text transform="translate(213.00,348.66) scale(1.0,1.0)" font-size="7.4" text-anchor="end" fill="#1e1e1e" style="stroke-width:0.12px">5.5</text>
<line x1="215.30" y1="321.98" x2="218.30" y2="321.98" stroke="#4a4a4a" stroke-width="0.9" />
<text transform="translate(213.00,324.58) scale(1.0,1.0)" font-size="7.4" text-anchor="end" fill="#1e1e1e" style="stroke-width:0.12px">6.0</text>
<line x1="215.30" y1="297.90" x2="218.30" y2="297.90" stroke="#4a4a4a" stroke-width="0.9" />
<text transform="translate(213.00,300.50) scale(1.0,1.0)" font-size="7.4" text-anchor="end" fill="#1e1e1e" style="stroke-width:0.12px">6.5</text>
<line x1="215.30" y1="406.26" x2="217.10" y2="406.26" stroke="#4a4a4a" stroke-width="0.8" />
<line x1="215.30" y1="382.18" x2="217.10" y2="382.18" stroke="#4a4a4a" stroke-width="0.8" />
<line x1="215.30" y1="358.10" x2="217.10" y2="358.10" stroke="#4a4a4a" stroke-width="0.8" />
<line x1="215.30" y1="334.02" x2="217.10" y2="334.02" stroke="#4a4a4a" stroke-width="0.8" />
<line x1="215.30" y1="309.94" x2="217.10" y2="309.94" stroke="#4a4a4a" stroke-width="0.8" />
<line x1="227.70" y1="418.30" x2="227.70" y2="415.30" stroke="#4a4a4a" stroke-width="0.9" />
<text transform="translate(227.70,427.90) scale(1.0,1.0)" font-size="7.4" text-anchor="middle" fill="#1e1e1e" style="stroke-width:0.12px">800</text>
<line x1="266.00" y1="418.30" x2="266.00" y2="415.30" stroke="#4a4a4a" stroke-width="0.9" />
<text transform="translate(266.00,427.90) scale(1.0,1.0)" font-size="7.4" text-anchor="middle" fill="#1e1e1e" style="stroke-width:0.12px">1400</text>
<line x1="304.30" y1="418.30" x2="304.30" y2="415.30" stroke="#4a4a4a" stroke-width="0.9" />
<text transform="translate(304.30,427.90) scale(1.0,1.0)" font-size="7.4" text-anchor="middle" fill="#1e1e1e" style="stroke-width:0.12px">2000</text>
<line x1="342.30" y1="418.30" x2="342.30" y2="415.30" stroke="#4a4a4a" stroke-width="0.9" />
<text transform="translate(342.30,427.90) scale(1.0,1.0)" font-size="7.4" text-anchor="middle" fill="#1e1e1e" style="stroke-width:0.12px">2600</text>
<line x1="246.85" y1="418.30" x2="246.85" y2="416.50" stroke="#4a4a4a" stroke-width="0.8" />
<line x1="285.15" y1="418.30" x2="285.15" y2="416.50" stroke="#4a4a4a" stroke-width="0.8" />
<line x1="323.45" y1="418.30" x2="323.45" y2="416.50" stroke="#4a4a4a" stroke-width="0.8" />
<path d="M227.70,353.19 L266.00,358.39 L304.30,372.31 L342.30,383.38" fill="none" stroke="#f0191e" stroke-width="1.4"/>
<line x1="227.70" y1="350.29" x2="227.70" y2="356.09" stroke="#f0191e" stroke-width="1.0" />
<line x1="226.10" y1="350.29" x2="229.30" y2="350.29" stroke="#f0191e" stroke-width="1.0" />
<line x1="226.10" y1="356.09" x2="229.30" y2="356.09" stroke="#f0191e" stroke-width="1.0" />
<rect x="226.40" y="351.89" width="2.6" height="2.6" fill="#f0191e"/>
<line x1="266.00" y1="356.39" x2="266.00" y2="360.39" stroke="#f0191e" stroke-width="1.0" />
<line x1="264.40" y1="356.39" x2="267.60" y2="356.39" stroke="#f0191e" stroke-width="1.0" />
<line x1="264.40" y1="360.39" x2="267.60" y2="360.39" stroke="#f0191e" stroke-width="1.0" />
<rect x="264.70" y="357.09" width="2.6" height="2.6" fill="#f0191e"/>
<line x1="304.30" y1="370.11" x2="304.30" y2="374.51" stroke="#f0191e" stroke-width="1.0" />
<line x1="302.70" y1="370.11" x2="305.90" y2="370.11" stroke="#f0191e" stroke-width="1.0" />
<line x1="302.70" y1="374.51" x2="305.90" y2="374.51" stroke="#f0191e" stroke-width="1.0" />
<rect x="303.00" y="371.01" width="2.6" height="2.6" fill="#f0191e"/>
<line x1="342.30" y1="381.38" x2="342.30" y2="385.38" stroke="#f0191e" stroke-width="1.0" />
<line x1="340.70" y1="381.38" x2="343.90" y2="381.38" stroke="#f0191e" stroke-width="1.0" />
<line x1="340.70" y1="385.38" x2="343.90" y2="385.38" stroke="#f0191e" stroke-width="1.0" />
<rect x="341.00" y="382.08" width="2.6" height="2.6" fill="#f0191e"/>
<path d="M227.70,326.22 L266.00,352.32 L304.30,377.41 L342.30,396.19" fill="none" stroke="#3c3c3c" stroke-width="1.4"/>
<line x1="227.70" y1="322.72" x2="227.70" y2="329.72" stroke="#3c3c3c" stroke-width="1.0" />
<line x1="226.10" y1="322.72" x2="229.30" y2="322.72" stroke="#3c3c3c" stroke-width="1.0" />
<line x1="226.10" y1="329.72" x2="229.30" y2="329.72" stroke="#3c3c3c" stroke-width="1.0" />
<rect x="226.40" y="324.92" width="2.6" height="2.6" fill="#3c3c3c"/>
<line x1="266.00" y1="349.32" x2="266.00" y2="355.32" stroke="#3c3c3c" stroke-width="1.0" />
<line x1="264.40" y1="349.32" x2="267.60" y2="349.32" stroke="#3c3c3c" stroke-width="1.0" />
<line x1="264.40" y1="355.32" x2="267.60" y2="355.32" stroke="#3c3c3c" stroke-width="1.0" />
<rect x="264.70" y="351.02" width="2.6" height="2.6" fill="#3c3c3c"/>
<line x1="304.30" y1="374.91" x2="304.30" y2="379.91" stroke="#3c3c3c" stroke-width="1.0" />
<line x1="302.70" y1="374.91" x2="305.90" y2="374.91" stroke="#3c3c3c" stroke-width="1.0" />
<line x1="302.70" y1="379.91" x2="305.90" y2="379.91" stroke="#3c3c3c" stroke-width="1.0" />
<rect x="303.00" y="376.11" width="2.6" height="2.6" fill="#3c3c3c"/>
<line x1="342.30" y1="394.19" x2="342.30" y2="398.19" stroke="#3c3c3c" stroke-width="1.0" />
<line x1="340.70" y1="394.19" x2="343.90" y2="394.19" stroke="#3c3c3c" stroke-width="1.0" />
<line x1="340.70" y1="398.19" x2="343.90" y2="398.19" stroke="#3c3c3c" stroke-width="1.0" />
<rect x="341.00" y="394.89" width="2.6" height="2.6" fill="#3c3c3c"/>
<line x1="308.10" y1="313.10" x2="324.90" y2="313.10" stroke="#3c3c3c" stroke-width="0.9" />
<circle cx="316.50" cy="313.1" r="1.4" fill="#3c3c3c"/>
<line x1="308.10" y1="322.90" x2="324.90" y2="322.90" stroke="#f0191e" stroke-width="0.9" />
<circle cx="316.50" cy="322.90" r="1.4" fill="#f0191e"/>
<g transform="translate(327.000,315.418) scale(0.7398,0.7286)"><text font-size="10" fill="#1e1e1e">UAM</text></g>
<g transform="translate(326.820,325.325) scale(0.7213,0.7000)"><text font-size="10" fill="#1e1e1e">CM</text></g>
<g transform="translate(200.527,374.647) rotate(-90) scale(1.0137,0.8324)"><text font-size="10" fill="#1e1e1e"><tspan font-style="italic">Fy</tspan><tspan dx="1.5">(</tspan><tspan dx="6">N</tspan><tspan dx="0.8">)</tspan></text></g>
<g transform="translate(242.718,436.484) scale(0.9639,0.9405)"><text font-size="10" fill="#1e1e1e" style="stroke-width:0.28px">Spindle speed<tspan dx="0.6">(</tspan><tspan dx="6">r/min</tspan><tspan dx="1.5">)</tspan></text></g>
<rect x="387.0" y="294.8" width="142.20" height="124.20" fill="none" stroke="#4a4a4a" stroke-width="1.0"/>
<line x1="387.00" y1="419.00" x2="390.00" y2="419.00" stroke="#4a4a4a" stroke-width="0.9" />
<text transform="translate(384.40,421.60) scale(1.0,1.0)" font-size="7.4" text-anchor="end" fill="#1e1e1e" style="stroke-width:0.12px">14</text>
<line x1="387.00" y1="391.35" x2="390.00" y2="391.35" stroke="#4a4a4a" stroke-width="0.9" />
<text transform="translate(384.40,393.95) scale(1.0,1.0)" font-size="7.4" text-anchor="end" fill="#1e1e1e" style="stroke-width:0.12px">16</text>
<line x1="387.00" y1="363.70" x2="390.00" y2="363.70" stroke="#4a4a4a" stroke-width="0.9" />
<text transform="translate(384.40,366.30) scale(1.0,1.0)" font-size="7.4" text-anchor="end" fill="#1e1e1e" style="stroke-width:0.12px">18</text>
<line x1="387.00" y1="336.05" x2="390.00" y2="336.05" stroke="#4a4a4a" stroke-width="0.9" />
<text transform="translate(384.40,338.65) scale(1.0,1.0)" font-size="7.4" text-anchor="end" fill="#1e1e1e" style="stroke-width:0.12px">20</text>
<line x1="387.00" y1="308.40" x2="390.00" y2="308.40" stroke="#4a4a4a" stroke-width="0.9" />
<text transform="translate(384.40,311.00) scale(1.0,1.0)" font-size="7.4" text-anchor="end" fill="#1e1e1e" style="stroke-width:0.12px">22</text>
<line x1="387.00" y1="405.18" x2="388.80" y2="405.18" stroke="#4a4a4a" stroke-width="0.8" />
<line x1="387.00" y1="377.52" x2="388.80" y2="377.52" stroke="#4a4a4a" stroke-width="0.8" />
<line x1="387.00" y1="349.88" x2="388.80" y2="349.88" stroke="#4a4a4a" stroke-width="0.8" />
<line x1="387.00" y1="322.23" x2="388.80" y2="322.23" stroke="#4a4a4a" stroke-width="0.8" />
<line x1="399.80" y1="419.00" x2="399.80" y2="416.00" stroke="#4a4a4a" stroke-width="0.9" />
<text transform="translate(399.80,428.60) scale(1.0,1.0)" font-size="7.4" text-anchor="middle" fill="#1e1e1e" style="stroke-width:0.12px">800</text>
<line x1="438.70" y1="419.00" x2="438.70" y2="416.00" stroke="#4a4a4a" stroke-width="0.9" />
<text transform="translate(438.70,428.60) scale(1.0,1.0)" font-size="7.4" text-anchor="middle" fill="#1e1e1e" style="stroke-width:0.12px">1400</text>
<line x1="477.30" y1="419.00" x2="477.30" y2="416.00" stroke="#4a4a4a" stroke-width="0.9" />
<text transform="translate(477.30,428.60) scale(1.0,1.0)" font-size="7.4" text-anchor="middle" fill="#1e1e1e" style="stroke-width:0.12px">2000</text>
<line x1="516.30" y1="419.00" x2="516.30" y2="416.00" stroke="#4a4a4a" stroke-width="0.9" />
<text transform="translate(516.30,428.60) scale(1.0,1.0)" font-size="7.4" text-anchor="middle" fill="#1e1e1e" style="stroke-width:0.12px">2600</text>
<line x1="419.25" y1="419.00" x2="419.25" y2="417.20" stroke="#4a4a4a" stroke-width="0.8" />
<line x1="458.15" y1="419.00" x2="458.15" y2="417.20" stroke="#4a4a4a" stroke-width="0.8" />
<line x1="497.05" y1="419.00" x2="497.05" y2="417.20" stroke="#4a4a4a" stroke-width="0.8" />
<path d="M399.80,338.26 L438.70,345.45 L477.30,340.34 L516.30,338.54" fill="none" stroke="#f0191e" stroke-width="1.4"/>
<line x1="399.80" y1="336.06" x2="399.80" y2="340.46" stroke="#f0191e" stroke-width="1.0" />
<line x1="398.20" y1="336.06" x2="401.40" y2="336.06" stroke="#f0191e" stroke-width="1.0" />
<line x1="398.20" y1="340.46" x2="401.40" y2="340.46" stroke="#f0191e" stroke-width="1.0" />
<rect x="398.50" y="336.96" width="2.6" height="2.6" fill="#f0191e"/>
<line x1="438.70" y1="341.35" x2="438.70" y2="349.55" stroke="#f0191e" stroke-width="1.0" />
<line x1="437.10" y1="341.35" x2="440.30" y2="341.35" stroke="#f0191e" stroke-width="1.0" />
<line x1="437.10" y1="349.55" x2="440.30" y2="349.55" stroke="#f0191e" stroke-width="1.0" />
<rect x="437.40" y="344.15" width="2.6" height="2.6" fill="#f0191e"/>
<line x1="477.30" y1="338.04" x2="477.30" y2="342.64" stroke="#f0191e" stroke-width="1.0" />
<line x1="475.70" y1="338.04" x2="478.90" y2="338.04" stroke="#f0191e" stroke-width="1.0" />
<line x1="475.70" y1="342.64" x2="478.90" y2="342.64" stroke="#f0191e" stroke-width="1.0" />
<rect x="476.00" y="339.04" width="2.6" height="2.6" fill="#f0191e"/>
<line x1="516.30" y1="336.04" x2="516.30" y2="341.04" stroke="#f0191e" stroke-width="1.0" />
<line x1="514.70" y1="336.04" x2="517.90" y2="336.04" stroke="#f0191e" stroke-width="1.0" />
<line x1="514.70" y1="341.04" x2="517.90" y2="341.04" stroke="#f0191e" stroke-width="1.0" />
<rect x="515.00" y="337.24" width="2.6" height="2.6" fill="#f0191e"/>
<path d="M399.80,348.40 L438.70,362.59 L477.30,363.01 L516.30,347.70" fill="none" stroke="#3c3c3c" stroke-width="1.4"/>
<line x1="399.80" y1="344.00" x2="399.80" y2="352.80" stroke="#3c3c3c" stroke-width="1.0" />
<line x1="398.20" y1="344.00" x2="401.40" y2="344.00" stroke="#3c3c3c" stroke-width="1.0" />
<line x1="398.20" y1="352.80" x2="401.40" y2="352.80" stroke="#3c3c3c" stroke-width="1.0" />
<rect x="398.50" y="347.10" width="2.6" height="2.6" fill="#3c3c3c"/>
<line x1="438.70" y1="358.49" x2="438.70" y2="366.69" stroke="#3c3c3c" stroke-width="1.0" />
<line x1="437.10" y1="358.49" x2="440.30" y2="358.49" stroke="#3c3c3c" stroke-width="1.0" />
<line x1="437.10" y1="366.69" x2="440.30" y2="366.69" stroke="#3c3c3c" stroke-width="1.0" />
<rect x="437.40" y="361.29" width="2.6" height="2.6" fill="#3c3c3c"/>
<line x1="477.30" y1="360.51" x2="477.30" y2="365.51" stroke="#3c3c3c" stroke-width="1.0" />
<line x1="475.70" y1="360.51" x2="478.90" y2="360.51" stroke="#3c3c3c" stroke-width="1.0" />
<line x1="475.70" y1="365.51" x2="478.90" y2="365.51" stroke="#3c3c3c" stroke-width="1.0" />
<rect x="476.00" y="361.71" width="2.6" height="2.6" fill="#3c3c3c"/>
<line x1="516.30" y1="345.20" x2="516.30" y2="350.20" stroke="#3c3c3c" stroke-width="1.0" />
<line x1="514.70" y1="345.20" x2="517.90" y2="345.20" stroke="#3c3c3c" stroke-width="1.0" />
<line x1="514.70" y1="350.20" x2="517.90" y2="350.20" stroke="#3c3c3c" stroke-width="1.0" />
<rect x="515.00" y="346.40" width="2.6" height="2.6" fill="#3c3c3c"/>
<line x1="481.10" y1="310.60" x2="498.70" y2="310.60" stroke="#3c3c3c" stroke-width="0.9" />
<circle cx="489.90" cy="310.6" r="1.4" fill="#3c3c3c"/>
<line x1="481.10" y1="320.70" x2="498.70" y2="320.70" stroke="#f0191e" stroke-width="0.9" />
<circle cx="489.90" cy="320.70" r="1.4" fill="#f0191e"/>
<g transform="translate(500.800,313.118) scale(0.7398,0.7286)"><text font-size="10" fill="#1e1e1e">UAM</text></g>
<g transform="translate(500.620,323.314) scale(0.7213,0.7429)"><text font-size="10" fill="#1e1e1e">CM</text></g>
<g transform="translate(374.324,371.763) rotate(-90) scale(0.9488,0.7892)"><text font-size="10" fill="#1e1e1e"><tspan font-style="italic">Fz</tspan><tspan dx="1.5">(</tspan><tspan dx="6">N</tspan><tspan dx="0.8">)</tspan></text></g>
<g transform="translate(415.515,437.432) scale(0.9694,0.9189)"><text font-size="10" fill="#1e1e1e" style="stroke-width:0.28px">Spindle speed<tspan dx="0.6">(</tspan><tspan dx="6">r/min</tspan><tspan dx="1.5">)</tspan></text></g>
</svg>
</body></html>
